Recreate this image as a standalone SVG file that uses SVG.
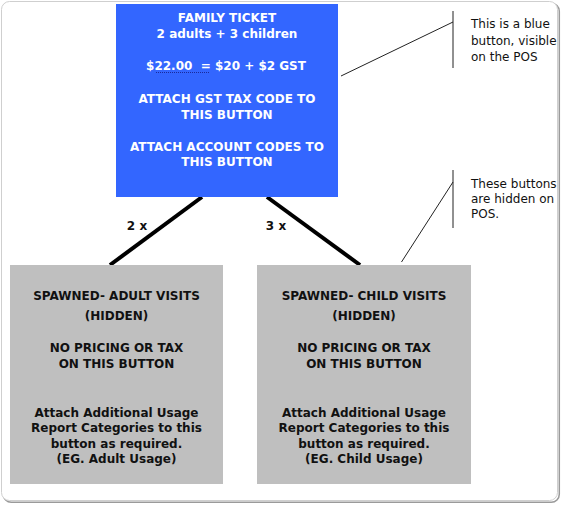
<svg xmlns="http://www.w3.org/2000/svg" width="561" height="505" viewBox="0 0 561 505">
<defs>
<style>
.b{font-family:"DejaVu Sans",Verdana,sans-serif;font-weight:bold;font-size:12px;text-anchor:middle}
.w{fill:#ffffff}
.k{fill:#111111}
.n{font-family:"DejaVu Sans",Verdana,sans-serif;font-size:12px;fill:#111111}
.thick{stroke:#000;stroke-width:4;fill:none}
.thin{stroke:#222;stroke-width:1;fill:none}
</style>
</defs>
<rect x="0" y="0" width="561" height="505" fill="#ffffff"/>
<rect x="2.5" y="2.5" width="556" height="499" rx="8" fill="none" stroke="#9a9a9a" stroke-width="1.5" transform="translate(0.8,0.8)"/>
<rect x="1.5" y="1.5" width="556" height="499" rx="8" fill="#ffffff" stroke="#cfcfcf" stroke-width="1"/>
<g id="connectors">
<line class="thick" x1="110" y1="265" x2="202" y2="197"/>
<line class="thick" x1="267" y1="197" x2="360" y2="265"/>
<line class="thin" x1="341" y1="76" x2="453" y2="22"/>
<line class="thin" x1="453" y1="11" x2="453" y2="68"/>
<line class="thin" x1="453" y1="182" x2="401.5" y2="262"/>
<line class="thin" x1="453" y1="170" x2="453" y2="228"/>
<text class="b k" x="137" y="230">2 x</text>
<text class="b k" x="276" y="230">3 x</text>
</g>
<g id="family-ticket">
<rect x="116" y="4" width="222" height="193" fill="#3366FF"/>
<text class="b w" x="227" y="21.5">FAMILY TICKET</text>
<text class="b w" x="227" y="37.5">2 adults + 3 children</text>
<text class="b w" x="226" y="70" xml:space="preserve">$22.00  = $20 + $2 GST</text>
<line x1="156" y1="72.5" x2="210" y2="72.5" stroke="#1a2a9a" stroke-width="1" stroke-dasharray="1,1"/>
<text class="b w" x="227" y="103">ATTACH GST TAX CODE TO</text>
<text class="b w" x="227" y="118.5">THIS BUTTON</text>
<text class="b w" x="227" y="151">ATTACH ACCOUNT CODES TO</text>
<text class="b w" x="227" y="166">THIS BUTTON</text>
</g>
<g id="adult-visits">
<rect x="10" y="265" width="213" height="219" fill="#BFBFBF"/>
<text class="b k" x="116.5" y="300">SPAWNED- ADULT VISITS</text>
<text class="b k" x="116.5" y="320">(HIDDEN)</text>
<text class="b k" x="116.5" y="351.5">NO PRICING OR TAX</text>
<text class="b k" x="116.5" y="368">ON THIS BUTTON</text>
<text class="b k" x="116.5" y="416.5">Attach Additional Usage</text>
<text class="b k" x="116.5" y="432">Report Categories to this</text>
<text class="b k" x="116.5" y="448">button as required.</text>
<text class="b k" x="116.5" y="463">(EG. Adult Usage)</text>
</g>
<g id="child-visits">
<rect x="257" y="265" width="214" height="219" fill="#BFBFBF"/>
<text class="b k" x="364" y="300">SPAWNED- CHILD VISITS</text>
<text class="b k" x="364" y="320">(HIDDEN)</text>
<text class="b k" x="364" y="351.5">NO PRICING OR TAX</text>
<text class="b k" x="364" y="368">ON THIS BUTTON</text>
<text class="b k" x="364" y="416.5">Attach Additional Usage</text>
<text class="b k" x="364" y="432">Report Categories to this</text>
<text class="b k" x="364" y="448">button as required.</text>
<text class="b k" x="364" y="463">(EG. Child Usage)</text>
</g>
<g id="note-visible">
<text class="n" x="471" y="28">This is a blue</text>
<text class="n" x="471" y="45">button, visible</text>
<text class="n" x="471" y="61">on the POS</text>
</g>
<g id="note-hidden">
<text class="n" x="471" y="188">These buttons</text>
<text class="n" x="471" y="203">are hidden on</text>
<text class="n" x="471" y="218">POS.</text>
</g>
</svg>
